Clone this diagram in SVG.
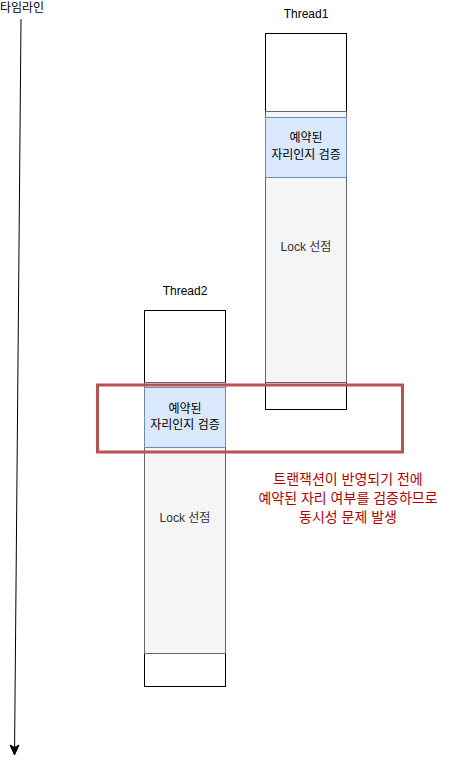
<svg xmlns="http://www.w3.org/2000/svg" width="473" height="763" viewBox="0 0 473 763">
<defs>
<style>
text{font-family:"Liberation Sans","Noto Sans CJK KR",sans-serif;font-size:12px;text-anchor:middle;dominant-baseline:central}
.outer{fill:#ffffff;stroke:#000000;stroke-width:1}
.lock{fill:#f5f5f5;stroke:#666666;stroke-width:1}
.check{fill:#dae8fc;stroke:#6c8ebf;stroke-width:1}
.gray{fill:#333333}
.red{fill:#b20000;font-size:14px}
</style>
</defs>
<g id="connectors">
<line x1="21" y1="19" x2="14.6" y2="747" stroke="#000" stroke-width="1"/>
<path d="M14.5 755 L10 745 L14.5 747.5 L19 745 Z" fill="#000" stroke="#000" stroke-width="1"/>
</g>
<g id="timeline-label"><text x="22" y="8">타임라인</text></g>
<g id="thread1">
<text x="306" y="14">Thread1</text>
<rect class="outer" x="265.5" y="33.5" width="81" height="376"/>
<rect class="lock" x="265.5" y="111.5" width="81" height="271"/>
<rect class="check" x="265.5" y="117.5" width="81" height="60"/>
<text x="306" y="138">예약된</text>
<text x="306" y="155">자리인지 검증</text>
<text class="gray" x="306" y="247">Lock 선점</text>
</g>
<g id="thread2">
<text x="185" y="291">Thread2</text>
<rect class="outer" x="144.5" y="310.5" width="81" height="376"/>
<rect class="lock" x="144.5" y="382.5" width="81" height="271"/>
<rect class="check" x="144.5" y="387.5" width="81" height="60"/>
<text x="185" y="409">예약된</text>
<text x="185" y="425">자리인지 검증</text>
<text class="gray" x="185" y="518">Lock 선점</text>
</g>
<g id="highlight">
<rect x="97.5" y="385" width="305" height="67" fill="none" stroke="#b85450" stroke-width="3"/>
</g>
<g id="note">
<text class="red" x="348" y="479">트랜잭션이 반영되기 전에</text>
<text class="red" x="348" y="498">예약된 자리 여부를 검증하므로</text>
<text class="red" x="348" y="517">동시성 문제 발생</text>
</g>
</svg>
